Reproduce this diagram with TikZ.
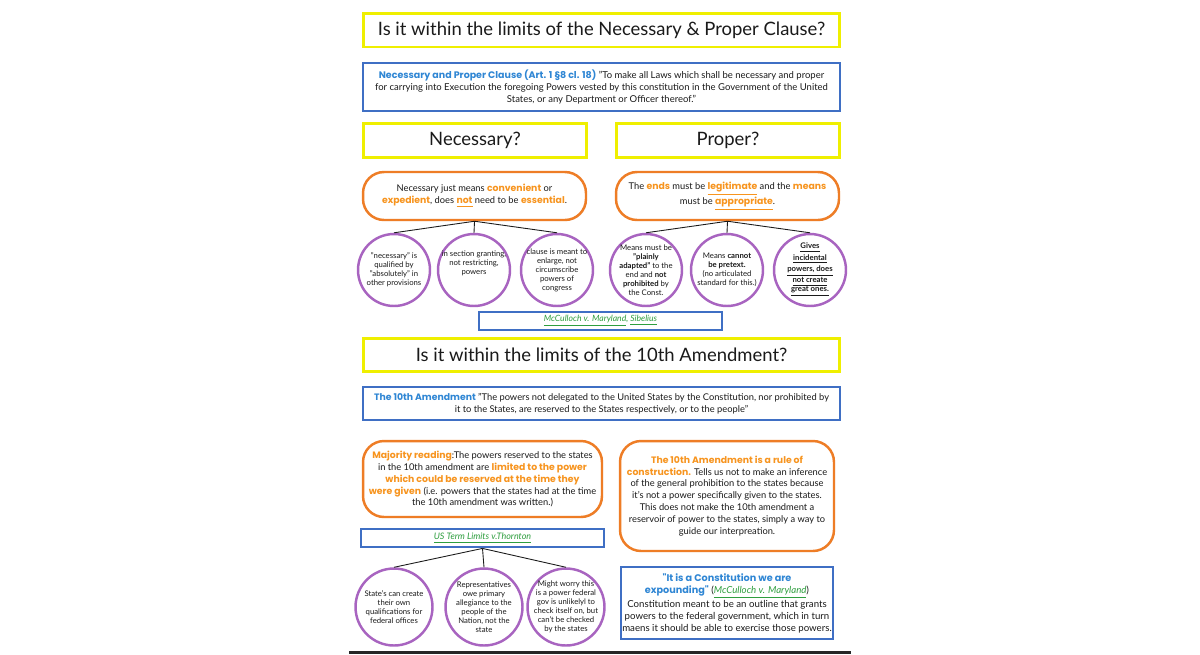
\documentclass[tikz,border=0pt]{standalone}
\usepackage{fontspec}
\setmainfont{Lato}
\newfontfamily\heavy{Poppins}
\usetikzlibrary{positioning, shadows}
\definecolor{hlyellow}{HTML}{EFEF00}
\definecolor{hlblue}{HTML}{2F86D4}
\definecolor{bxblue}{HTML}{3F6FC4}
\definecolor{bxorange}{HTML}{EE7D26}
\definecolor{hlorange}{HTML}{F7941E}
\definecolor{bbpurple}{HTML}{A864C0}
\definecolor{lkgreen}{HTML}{2E9E3E}
\definecolor{ink}{HTML}{1A1A1A}
\newcommand{\undl}[1]{\underline{#1}}
\newcommand{\hlo}[1]{{\heavy\bfseries\color{hlorange}#1}}
\newcommand{\hlou}[1]{{\heavy\bfseries\color{hlorange}\undl{#1}}}
\newcommand{\hlb}[1]{{\heavy\bfseries\color{hlblue}#1}}
\newcommand{\caselink}[1]{{\color{lkgreen}\itshape\undl{#1}}}

\begin{document}
\begin{tikzpicture}[x=0.02cm, y=-0.02cm, text=ink,
  yellowbox/.style={draw=hlyellow, line width=1.7pt, fill=white,
    drop shadow={shadow xshift=0.8pt, shadow yshift=-0.8pt, fill=black!20},
    minimum height=0.68cm, inner sep=0pt},
  bluebox/.style={draw=bxblue, line width=1.6pt, fill=white, align=center,
    drop shadow={shadow xshift=0.8pt, shadow yshift=-0.8pt, fill=black!20},
    inner sep=0pt, font=\fontsize{5.4}{6.8}\selectfont},
  orangebox/.style={draw=bxorange, line width=1.4pt, fill=white, align=center,
    rounded corners=0.42cm, inner sep=0pt, font=\fontsize{5.3}{6.8}\selectfont,
    drop shadow={shadow xshift=0.6pt, shadow yshift=-0.6pt, fill=black!15}},
  bubble/.style={circle, draw=bbpurple, line width=1.4pt, fill=white, align=center,
    inner sep=-12pt, font=\fontsize{4.4}{5.1}\selectfont},
  tie/.style={draw=ink, line width=0.5pt}]

\useasboundingbox (0,0) rectangle (1200,654);

% --- Necessary & Proper Clause ---
\node[yellowbox, minimum width=9.54cm, font=\fontsize{10.5}{13}\selectfont] (title1) at (601.5,30)
  {Is it within the limits of the Necessary \& Proper Clause?};

\node[bluebox, minimum width=9.54cm, minimum height=0.96cm] (clause) at (601.5,87)
  {\hlb{Necessary and Proper Clause (Art. 1 \S8 cl. 18)} "To make all Laws which shall be necessary and proper\\
   for carrying into Execution the foregoing Powers vested by this constitution in the Government of the United\\
   States, or any Department or Officer thereof."};

\node[yellowbox, minimum width=4.48cm, font=\fontsize{10.5}{12}\selectfont] (nec) at (475,140) {Necessary?};
\node[yellowbox, minimum width=4.48cm, font=\fontsize{10.5}{12}\selectfont] (prop) at (728,140) {Proper?};

\node[orangebox, minimum width=4.46cm, minimum height=0.96cm] (necdef) at (474.5,196)
  {Necessary just means \hlo{convenient} or\\
   \hlo{expedient}, does \hlou{not} need to be \hlo{essential}.};
\node[orangebox, minimum width=4.46cm, minimum height=0.96cm] (propdef) at (727.5,196)
  {The \hlo{ends} must be \hlou{legitimate} and the \hlo{means}\\
   must be \hlou{appropriate}.};

% bubbles under Necessary
\node[bubble, minimum size=1.44cm] (nec1) at (394,270)
  {"necessary" is\\ qualified by\\ "absolutely" in\\ other provisions};
\node[bubble, minimum size=1.44cm] (nec2) at (474,270)
  {in section granting,\\ not restricting,\\ powers\\[3pt]};
\node[bubble, minimum size=1.44cm] (nec3) at (557,270)
  {clause is meant to\\ enlarge, not\\ circumscribe\\ powers of\\ congress};

% bubbles under Proper
\node[bubble, minimum size=1.44cm] (prop1) at (646,270)
  {Means must be\\ \textbf{"plainly}\\ \textbf{adapted"} to the\\ end and \textbf{not}\\ \textbf{prohibited} by\\ the Const.};
\node[bubble, minimum size=1.44cm] (prop2) at (727,270)
  {Means \textbf{cannot}\\ \textbf{be pretext.}\\ (no articulated\\ standard for this.)};
\node[bubble, minimum size=1.44cm] (prop3) at (810,270)
  {\textbf{\undl{Gives}}\\ \textbf{\undl{incidental}}\\ \textbf{\undl{powers, does}}\\ \textbf{\undl{not create}}\\ \textbf{\undl{great ones.}}};

\foreach \b in {nec1,nec2,nec3} \draw[tie] (necdef.south) -- (\b.north);
\foreach \b in {prop1,prop2,prop3} \draw[tie] (propdef.south) -- (\b.north);

\node[bluebox, minimum width=4.86cm, minimum height=0.36cm, font=\fontsize{4.9}{6}\selectfont] (case1) at (600.5,321)
  {\caselink{McCulloch v. Maryland}{\color{lkgreen}\itshape, }\caselink{Sibelius}};

% --- 10th Amendment ---
\node[yellowbox, minimum width=9.54cm, minimum height=0.66cm, font=\fontsize{10.5}{13}\selectfont] (title2) at (601.5,354.5)
  {Is it within the limits of the 10th Amendment?};

\node[bluebox, minimum width=9.54cm, minimum height=0.66cm, font=\fontsize{5.3}{6.6}\selectfont] (tenth) at (601.5,403.5)
  {\hlb{The 10th Amendment} "The powers not delegated to the United States by the Constitution, nor prohibited by\\
   it to the States, are reserved to the States respectively, or to the people"};

\node[orangebox, minimum width=4.78cm, minimum height=1.52cm] (major) at (482.5,479)
  {\hlo{Majority reading}:The powers reserved to the states\\
   in the 10th amendment are \hlo{limited to the power}\\
   \hlo{which could be reserved at the time they}\\
   \hlo{were given} (i.e. powers that the states had at the time\\
   the 10th amendment was written.)};

\node[orangebox, minimum width=4.28cm, minimum height=2.2cm] (rule) at (727,496)
  {\hlo{The 10th Amendment is a rule of}\\
   \hlo{construction.} Tells us not to make an inference\\
   of the general prohibition to the states because\\
   it's not a power specifically given to the states.\\
   This does not make the 10th amendment a\\
   reservoir of power to the states, simply a way to\\
   guide our interpreation.};

\node[bluebox, minimum width=4.86cm, minimum height=0.36cm, font=\fontsize{5.1}{6}\selectfont] (case2) at (482.5,538)
  {\caselink{US Term Limits v.Thornton}};

% bubbles under Thornton
\node[bubble, minimum size=1.54cm] (thor1) at (394,607)
  {State's can create\\ their own\\ qualifications for\\ federal offices};
\node[bubble, minimum size=1.54cm] (thor2) at (484,607)
  {Representatives\\ owe primary\\ allegiance to the\\ people of the\\ Nation, not the\\ state};
\node[bubble, minimum size=1.54cm] (thor3) at (566,607)
  {Might worry this\\ is a power federal\\ gov is unlikelyl to\\ check itself on, but\\ can't be checked\\ by the states};

\foreach \b in {thor1,thor2,thor3} \draw[tie] (case2.south) -- (\b.north);

\node[bluebox, minimum width=4.24cm, minimum height=1.44cm, font=\fontsize{5.5}{6.8}\selectfont] (quote) at (727,603)
  {\hlb{"It is a Constitution we are}\\
   \hlb{expounding"} (\caselink{McCulloch v. Maryland})\\
   Constitution meant to be an outline that grants\\
   powers to the federal government, which in turn\\
   maens it should be able to exercise those powers.};

% page edge
\coordinate (edgeL) at (349,652.5);
\coordinate (edgeR) at (851,652.5);
\draw[black!85, line width=2pt] (edgeL) -- (edgeR);

\end{tikzpicture}
\end{document}
